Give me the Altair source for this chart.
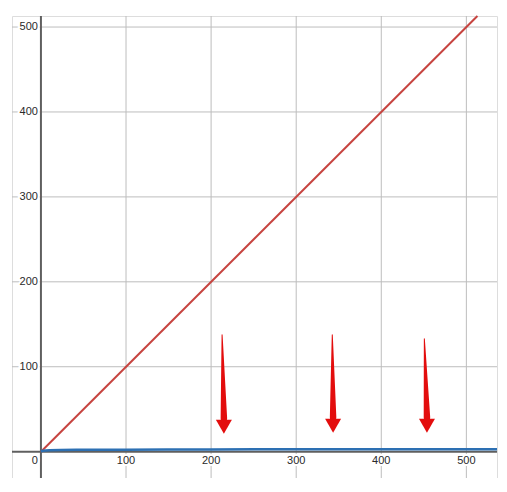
import altair as alt
import pandas as pd

# ---- data ----
x_min, x_max = -34, 536
y_min, y_max = -31, 513

grid_ticks = [100, 200, 300, 400, 500]

red_x = [0, 513]
red_y = [0, 513]

blue_x = [0, 2, 10, 50, 100, 200, 300, 400, 536]
blue_y = [0, 1.0, 1.8, 2.2, 2.4, 2.6, 2.8, 2.9, 3.0]

arrow_top_x = [212.9, 342.4, 450.6]
arrow_top_y = [137.6, 137.6, 132.9]
arrow_tip_x = [215.3, 343.5, 454.1]
arrow_tip_y = [21.2, 22.4, 22.4]
arrow_head_len = 16  # data units of head height

# ---- tables ----
xs = alt.Scale(domain=[x_min, x_max], nice=False, zero=False)
ys = alt.Scale(domain=[y_min, y_max], nice=False, zero=False)

vgrid = pd.DataFrame({"x": grid_ticks, "y1": y_min, "y2": y_max})
hgrid = pd.DataFrame({"y": grid_ticks, "x1": x_min, "x2": x_max})
red = pd.DataFrame({"x": red_x, "y": red_y})
blue = pd.DataFrame({"x": blue_x, "y": blue_y})

shaft_rows = []
head_rows = []
for i in range(len(arrow_top_x)):
    hx = arrow_tip_x[i] - (arrow_tip_x[i] - arrow_top_x[i]) * 0.12
    hy_top = arrow_tip_y[i] + arrow_head_len
    shaft_rows.append({"id": i, "o": 0, "x": arrow_top_x[i], "y": arrow_top_y[i], "w": 1.0})
    shaft_rows.append({"id": i, "o": 1, "x": hx, "y": hy_top + 2, "w": 6.5})
    head_rows.append({"id": i, "x": hx, "y": arrow_tip_y[i] + arrow_head_len / 2})
shafts = pd.DataFrame(shaft_rows)
heads = pd.DataFrame(head_rows)

ylab = pd.DataFrame({"y": grid_ticks, "t": [str(v) for v in grid_ticks], "x": 0})
xlab = pd.DataFrame({"x": [0] + grid_ticks, "t": ["0"] + [str(v) for v in grid_ticks], "y": 0})

GRID = "#bdbdbd"
AXIS = "#5f5f5f"
FONT = "Liberation Sans"
TXT = "#2a2a2a"
FS = 11

X = lambda f: alt.X(f, scale=xs, axis=None)
Y = lambda f: alt.Y(f, scale=ys, axis=None)

vg = alt.Chart(vgrid).mark_rule(color=GRID, strokeWidth=1).encode(
    x=X("x:Q"), y=Y("y1:Q"), y2="y2:Q")
hg = alt.Chart(hgrid).mark_rule(color=GRID, strokeWidth=1).encode(
    y=Y("y:Q"), x=X("x1:Q"), x2="x2:Q")

axes_df = pd.DataFrame({"x1": [0, x_min], "x2": [0, x_max], "y1": [y_min, 0], "y2": [y_max, 0]})
ax = alt.Chart(axes_df).mark_rule(color=AXIS, strokeWidth=2).encode(
    x=X("x1:Q"), x2="x2:Q", y=Y("y1:Q"), y2="y2:Q")

ylab_halo = alt.Chart(ylab).mark_text(
    align="right", baseline="middle", dx=-3, font=FONT, fontSize=FS,
    stroke="white", strokeWidth=4, fill="white").encode(
    x=X("x:Q"), y=Y("y:Q"), text="t:N")
ylab_txt = alt.Chart(ylab).mark_text(
    align="right", baseline="middle", dx=-3, font=FONT, fontSize=FS, color=TXT).encode(
    x=X("x:Q"), y=Y("y:Q"), text="t:N")

xl_main = xlab[xlab.t != "0"]
xl_zero = xlab[xlab.t == "0"]

def xtext(df, align, dx, halo):
    kw = dict(align=align, baseline="top", dx=dx, dy=3, font=FONT, fontSize=FS)
    if halo:
        kw.update(stroke="white", strokeWidth=4, fill="white")
    else:
        kw.update(color=TXT)
    return alt.Chart(df).mark_text(**kw).encode(x=X("x:Q"), y=Y("y:Q"), text="t:N")

red_line = alt.Chart(red).mark_line(color="#c74440", strokeWidth=2).encode(
    x=X("x:Q"), y=Y("y:Q"))
blue_line = alt.Chart(blue).mark_line(color="#2d70b3", strokeWidth=2.5, interpolate="monotone").encode(
    x=X("x:Q"), y=Y("y:Q"))

ARROW = "#e30d0d"
shaft = alt.Chart(shafts).mark_trail(color=ARROW).encode(
    x=X("x:Q"), y=Y("y:Q"),
    size=alt.Size("w:Q", scale=None), detail="id:N", order="o:Q")
head = alt.Chart(heads).mark_point(
    shape="M -1 -0.875 L 1 -0.875 L 0 0.875 Z", size=256, filled=True, fill=ARROW,
    opacity=1, strokeWidth=0).encode(x=X("x:Q"), y=Y("y:Q"))

chart = alt.layer(
    vg, hg, ax,
    ylab_halo, ylab_txt,
    xtext(xl_main, "center", 0, True), xtext(xl_main, "center", 0, False),
    xtext(xl_zero, "right", -3, True), xtext(xl_zero, "right", -3, False),
    red_line, blue_line, shaft, head,
).properties(
    width=485, height=462,
    padding={"left": 4, "top": 8, "right": 2, "bottom": 0},
    autosize=alt.AutoSizeParams(type="none"),
).configure_view(strokeWidth=0, stroke="transparent").configure(background="white")

chart.save("out.html", embed_options={"renderer": "svg", "actions": False})
